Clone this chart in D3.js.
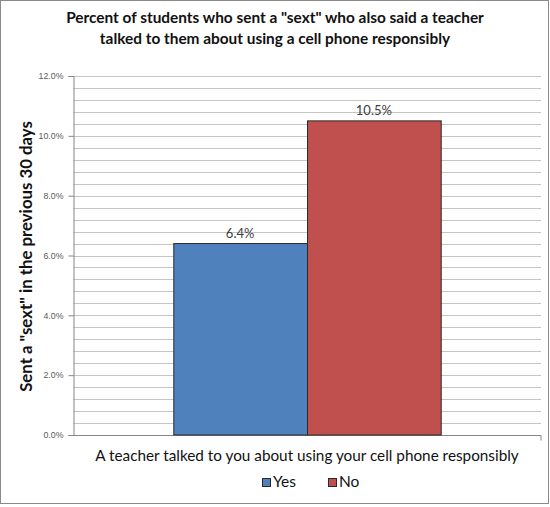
<!DOCTYPE html>
<html>
<head>
<meta charset="utf-8">
<script src="https://d3js.org/d3.v7.min.js"></script>
<style>
  body { margin: 0; background: #fff; }
  svg { display: block; font-family: Lato, "Open Sans", sans-serif; }
</style>
</head>
<body>
<div id="chart"></div>
<script>
const categories = ["A teacher talked to you about using your cell phone responsibly"]
const seriesNames = ["Yes", "No"]
const seriesValues = [6.4, 10.5]
const seriesColors = ["#4f81bd", "#c0504d"]
const yTicks = [0, 2, 4, 6, 8, 10, 12]
const titleLines = ["Percent of students who sent a \"sext\" who also said a teacher",
                    "talked to them about using a cell phone responsibly"]
const yTitle = "Sent a \"sext\" in the previous 30 days"

const w = 550, h = 507
const margin = { top: 76, right: 9, bottom: 72, left: 73 }

const svg = d3.select("#chart").append("svg").attr("width", w).attr("height", h)

// outer frame
svg.append("rect").attr("x", 0.5).attr("y", 0.5).attr("width", w - 2).attr("height", h - 4)
  .style("fill", "#fff").style("stroke", "#8a8a8a")

const x0 = d3.scaleBand().domain(categories).range([margin.left, w - margin.right])
const x1 = d3.scaleBand().domain(seriesNames).range([0, x0.bandwidth()]).paddingOuter(0.75)
const y = d3.scaleLinear().domain([0, 12]).range([h - margin.bottom, margin.top])

// grid every 0.4%
const gridVals = d3.range(0, 12.01, 0.4).map(v => +v.toFixed(1))
svg.append("g").selectAll("line").data(gridVals.filter(v => v > 0)).enter().append("line")
  .attr("x1", margin.left).attr("x2", w - margin.right)
  .attr("y1", d => Math.round(y(d)) + 0.5).attr("y2", d => Math.round(y(d)) + 0.5)
  .style("stroke", "#c4c4c4").style("stroke-width", 1)

const yAxis = d3.axisLeft(y).tickValues(yTicks).tickFormat(d => d.toFixed(1) + "%").tickSize(5).tickPadding(5)
const gy = svg.append("g").attr("transform", "translate(" + (margin.left + 0.5) + ",0)").call(yAxis)
gy.select(".domain").style("stroke", "#868686")
gy.selectAll(".tick line").style("stroke", "#868686")
gy.selectAll(".tick text").style("font-family", "Liberation Sans, Arial, sans-serif").style("font-size", "8.8px").style("fill", "#595959")

const xAxis = d3.axisBottom(x0).tickSize(0).tickFormat("")
const gx = svg.append("g").attr("transform", "translate(0," + (Math.round(y(0)) + 0.5) + ")").call(xAxis)
gx.select(".domain").attr("d", "M" + margin.left + ",0H" + (w - margin.right) + "V5").style("stroke", "#868686")

const bars = seriesNames.map((s, i) => ({ s, v: seriesValues[i], c: seriesColors[i] }))
const g = svg.append("g").attr("transform", "translate(" + x0(categories[0]) + ",0)")
g.selectAll("rect").data(bars).enter().append("rect")
  .attr("x", d => x1(d.s) + 0.5).attr("width", x1.bandwidth())
  .attr("y", d => y(d.v)).attr("height", d => y(0) - y(d.v))
  .style("fill", d => d.c).style("stroke", "#2b2b2b").style("stroke-width", 1)

g.selectAll("text").data(bars).enter().append("text")
  .attr("x", d => x1(d.s) + x1.bandwidth() / 2).attr("y", d => y(d.v) - 6)
  .attr("text-anchor", "middle").style("font-size", "13px").style("fill", "#404040")
  .text(d => d.v.toFixed(1) + "%")

// titles
svg.append("g").selectAll("text").data(titleLines).enter().append("text")
  .attr("x", 275).attr("y", (d, i) => 23 + i * 21).attr("text-anchor", "middle")
  .style("font-size", "15.4px").style("font-weight", "bold").style("fill", "#111").text(d => d)

svg.append("text").attr("transform", "translate(32," + (y(6) + 1) + ") rotate(-90)")
  .attr("text-anchor", "middle").style("font-size", "16.8px").style("font-weight", "bold").style("fill", "#111")
  .text(yTitle)

svg.append("text").attr("x", x0(categories[0]) + x0.bandwidth() / 2).attr("y", 461)
  .attr("text-anchor", "middle").style("font-size", "15.3px").style("fill", "#111").text(categories[0])

// legend
const lg = svg.append("g").selectAll("g").data(bars).enter().append("g")
  .attr("transform", (d, i) => "translate(" + (262 + i * 66) + ",478)")
lg.append("rect").attr("x", 0.5).attr("y", 0.5).attr("width", 8).attr("height", 8)
  .style("fill", d => d.c).style("stroke", "#2b2b2b")
lg.append("text").attr("x", 11).attr("y", 9).style("font-size", "15.5px").style("fill", "#111").text(d => d.s)
</script>
</body>
</html>
